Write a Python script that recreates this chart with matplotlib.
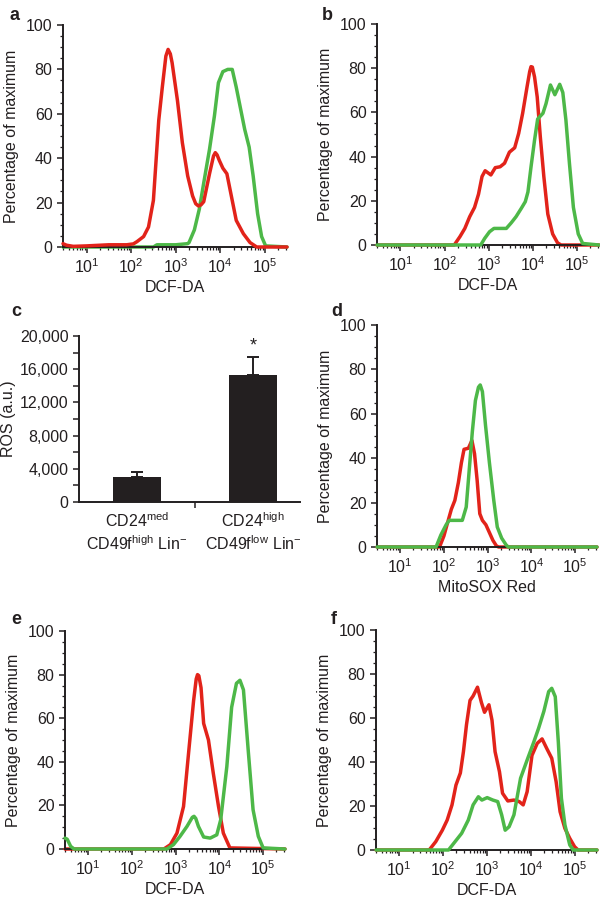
import numpy as np
import matplotlib
matplotlib.use("Agg")
import matplotlib.pyplot as plt
from matplotlib.ticker import LogLocator, NullFormatter, MultipleLocator, FuncFormatter

plt.rcParams['font.family'] = ['Liberation Sans', 'DejaVu Sans']
plt.rcParams['mathtext.fontset'] = 'custom'
plt.rcParams['mathtext.rm'] = 'Liberation Sans'
plt.rcParams['mathtext.it'] = 'Liberation Sans:italic'
plt.rcParams['mathtext.bf'] = 'Liberation Sans:bold'

TXT = '#231f20'
RED = '#e2231a'
GREEN = '#4db848'

# ---------------- data (x as log10 fluorescence, y as % of maximum) ----------------
a_red_logx = [0.47, 0.55, 0.7, 1.0, 1.5, 1.9, 2.05, 2.13, 2.28, 2.39, 2.5, 2.62, 2.70, 2.78, 2.83, 2.88, 2.92, 3.04,
              3.15, 3.27, 3.38, 3.45, 3.51, 3.57, 3.63, 3.76, 3.85, 3.89, 3.93, 3.98, 4.06, 4.15, 4.25, 4.36, 4.52, 4.67, 4.82, 5.5]
a_red_pct = [1.5, 0.8, 0.3, 0.5, 1.0, 1.0, 1.4, 2.4, 4.7, 9, 21, 57, 72, 86, 89, 87, 83, 66,
             47, 32, 23, 19.5, 18.5, 19, 20.4, 33, 41, 42.5, 41.5, 39, 35.5, 33, 23, 12, 6, 2, 0, 0]
a_green_logx = [0.47, 2.5, 2.58, 3.0, 3.27, 3.3, 3.42, 3.53, 3.64, 3.76, 3.87, 3.96, 4.06, 4.17, 4.27, 4.36,
                4.48, 4.55, 4.65, 4.74, 4.84, 4.93, 5.02, 5.5]
a_green_pct = [0, 0, 1.0, 1.0, 1.5, 2, 7.7, 17, 30, 44, 59, 74, 79, 80, 80, 72,
               60, 53, 45, 32, 15, 4.7, 0.5, 0]

b_red_logx = [0.47, 2.22, 2.35, 2.46, 2.57, 2.68, 2.77, 2.85, 2.92, 3.05, 3.15, 3.26, 3.36, 3.47, 3.59,
              3.68, 3.77, 3.87, 3.93, 3.96, 3.99, 4.04, 4.10, 4.17, 4.25, 4.34, 4.45, 4.56, 4.64, 5.5]
b_red_pct = [0, 0, 3.8, 7.5, 12.8, 17, 23, 31, 33.6, 31.7, 35, 35.4, 37, 42, 44,
             50.5, 59.6, 71.6, 78.5, 80.7, 80.5, 76, 67, 49, 31, 14, 5, 1, 0, 0]
b_green_logx = [0.47, 2.82, 2.91, 3.02, 3.12, 3.40, 3.51, 3.62, 3.74, 3.83, 3.89, 3.96, 4.04, 4.11,
                4.23, 4.30, 4.40, 4.50, 4.61, 4.68, 4.75, 4.83, 4.92, 5.03, 5.13, 5.5]
b_green_pct = [0, 0, 3, 6, 7.5, 7.5, 10, 12.8, 16.6, 19.6, 24, 35.4, 47.5, 57,
               59.6, 64, 72.4, 68, 72.7, 69, 56.6, 37, 17, 5, 0.7, 0]

c_groups = ['CD24$^{\\rm med}$\nCD49f$^{\\rm high}$ Lin$^{-}$',
            'CD24$^{\\rm high}$\nCD49f$^{\\rm low}$ Lin$^{-}$']
c_ros = [3050, 15300]
c_err = [530, 2170]

d_red_logx = [0.47, 1.90, 2.0, 2.08, 2.17, 2.25, 2.33, 2.40, 2.46, 2.56, 2.64, 2.70, 2.76, 2.82, 2.88,
              2.96, 3.04, 3.12, 3.20, 3.25, 5.5]
d_red_pct = [0, 0, 5, 10.7, 17, 21, 29, 38, 44, 44.5, 48, 42, 30, 15, 12,
             10, 6.5, 3, 0.5, 0, 0]
d_green_logx = [0.47, 1.82, 1.93, 2.05, 2.12, 2.42, 2.51, 2.58, 2.65, 2.72, 2.79, 2.83, 2.88, 2.95, 3.04,
                3.14, 3.22, 3.32, 3.42, 3.47, 5.5]
d_green_pct = [0, 0, 5.4, 10, 12, 12, 18, 35, 52, 66, 72, 73, 70, 55, 38,
               21, 9, 4, 1, 0, 0]

e_red_logx = [0.47, 2.73, 2.88, 3.03, 3.18, 3.30, 3.41, 3.47, 3.50, 3.53, 3.58, 3.64, 3.75, 3.86, 3.98, 4.09, 4.24, 5.5]
e_red_pct = [0, 0, 2, 7.3, 19.5, 45, 68, 78, 80, 79.5, 74, 57.6, 50, 34.8, 19.5, 7.3, 0.5, 0]
e_green_logx = [0.47, 0.52, 0.6, 0.68, 2.8, 2.95, 3.10, 3.26, 3.38, 3.42, 3.46, 3.52, 3.64, 3.79, 3.94, 4.03, 4.17,
                4.28, 4.39, 4.47, 4.55, 4.66, 4.77, 4.89, 5.0, 5.5]
e_green_pct = [5, 4.5, 1.2, 0, 0, 2, 5.8, 10.4, 14.5, 15, 14, 10.4, 5.5, 5, 6.5, 13.4, 37.8,
               65, 76, 77.4, 73, 45, 18, 5.8, 0.5, 0]

f_red_logx = [0.47, 1.68, 1.83, 1.98, 2.09, 2.2, 2.29, 2.39, 2.46, 2.53, 2.61, 2.68, 2.78, 2.87, 2.94,
              3.04, 3.11, 3.18, 3.28, 3.35, 3.47, 3.61, 3.73, 3.82, 3.91, 4.02, 4.14, 4.25, 4.36, 4.47,
              4.57, 4.66, 4.77, 4.88, 4.99, 5.07, 5.5]
f_red_pct = [0, 0, 3.8, 9, 13.6, 20.5, 29.5, 35, 44.7, 57, 68, 70, 74, 67, 62.6,
             66, 59, 44.7, 35.6, 25.8, 22.3, 22.7, 22, 20.5, 26.5, 43, 48.5, 50.5, 46, 41.7,
             31, 17.4, 9.8, 5.3, 1.5, 0, 0]
f_green_logx = [0.47, 2.12, 2.27, 2.42, 2.57, 2.68, 2.80, 2.88, 3.0, 3.13, 3.24, 3.33, 3.41, 3.5, 3.61,
                3.76, 3.91, 4.06, 4.17, 4.29, 4.40, 4.47, 4.55, 4.62, 4.69, 4.77, 4.88, 4.96, 5.5]
f_green_pct = [0, 0, 3.8, 7.6, 13.6, 20.5, 24.2, 22.7, 23.8, 22.7, 22, 16, 9, 10.6, 16,
               32.6, 40.9, 49, 55.3, 63, 72, 73.5, 69.7, 49, 23.5, 11.4, 2.3, 0, 0]

x_ticks = [1, 2, 3, 4, 5]
y_ticks = [0, 20, 40, 60, 80, 100]
c_yticks = [0, 4000, 8000, 12000, 16000, 20000]

W, H = 600, 897
fig = plt.figure(figsize=(W / 100, H / 100), dpi=100)


def add_ax(l, t, r, b):
    return fig.add_axes([l / W, 1 - b / H, (r - l) / W, (b - t) / H])


def style(ax):
    for s in ['top', 'right']:
        ax.spines[s].set_visible(False)
    for s in ['left', 'bottom']:
        ax.spines[s].set_linewidth(1.4)
        ax.spines[s].set_color(TXT)
    ax.tick_params(which='major', direction='out', length=4.5, width=1.1, colors=TXT,
                   labelsize=11.5, pad=3)
    ax.tick_params(which='minor', direction='out', length=2.5, width=0.9, colors=TXT)


def hist_panel(rect, rx, ry, gx, gy, xlabel, green_top):
    ax = add_ax(*rect)
    style(ax)
    zr = 3 if not green_top else 2
    zg = 2 if not green_top else 3
    ax.plot(10 ** np.array(gx), gy, color=GREEN, lw=2.5, zorder=zg, solid_joinstyle='round',
            solid_capstyle='round', clip_on=False)
    ax.plot(10 ** np.array(rx), ry, color=RED, lw=2.5, zorder=zr, solid_joinstyle='round',
            solid_capstyle='round', clip_on=False)
    ax.set_xscale('log')
    ax.set_xlim(10 ** 0.47, 10 ** 5.5)
    ax.set_ylim(0, 100)
    ax.set_xticks([10.0 ** k for k in x_ticks])
    ax.set_xticklabels(['10$^{%d}$' % k for k in x_ticks])
    ax.xaxis.set_minor_locator(LogLocator(base=10, subs=np.arange(2, 10), numticks=20))
    ax.xaxis.set_minor_formatter(NullFormatter())
    ax.set_yticks(y_ticks)
    ax.yaxis.set_minor_locator(MultipleLocator(5))
    ax.set_ylabel('Percentage of maximum', fontsize=11.5, color=TXT, labelpad=5)
    ax.set_xlabel(xlabel, fontsize=11.5, color=TXT, labelpad=3)
    return ax


hist_panel((63, 25, 287, 247), a_red_logx, a_red_pct, a_green_logx, a_green_pct, 'DCF-DA', False)
hist_panel((377, 24, 599, 245), b_red_logx, b_red_pct, b_green_logx, b_green_pct, 'DCF-DA', True)
hist_panel((377, 325, 597, 547), d_red_logx, d_red_pct, d_green_logx, d_green_pct, 'MitoSOX Red', True)
hist_panel((65, 631, 285, 849), e_red_logx, e_red_pct, e_green_logx, e_green_pct, 'DCF-DA', True)
hist_panel((376, 630, 597, 850), f_red_logx, f_red_pct, f_green_logx, f_green_pct, 'DCF-DA', True)

# ---------------- panel c: bar chart ----------------
axc = add_ax(79, 336, 300, 502)
style(axc)
xpos = np.arange(len(c_ros))
axc.bar(xpos, c_ros, width=0.414, color=TXT, zorder=2)
axc.errorbar(xpos, c_ros, yerr=[np.zeros(len(c_err)), c_err], fmt='none', ecolor=TXT,
             elinewidth=1.4, capsize=4.5, capthick=1.4, zorder=1)
axc.text(xpos[1], c_ros[1] + c_err[1] + 250, '*', ha='center', va='bottom', fontsize=13, color=TXT)
axc.set_xlim(-0.5, 1.405)
axc.set_ylim(0, 20000)
axc.set_yticks(c_yticks)
axc.yaxis.set_major_formatter(FuncFormatter(lambda v, p: '{:,}'.format(int(v))))
axc.yaxis.set_minor_locator(MultipleLocator(2000))
axc.tick_params(axis='y', which='minor', length=4.5, width=1.1)
axc.set_xticks(xpos)
axc.set_xticklabels(c_groups, fontsize=11.5, color=TXT, linespacing=1.25)
axc.tick_params(axis='x', which='major', length=0, pad=7)
axc.set_xticks([0.5], minor=True)
axc.tick_params(axis='x', which='minor', length=4.5, width=1.1)
axc.set_ylabel('ROS (a.u.)', fontsize=11.5, color=TXT)
axc.yaxis.set_label_coords(-(79 - 16) / 221, 0.5)

# ---------------- panel letters ----------------
for lab, x, y in [('a', 10, 7), ('b', 322, 7), ('c', 11, 303), ('d', 331, 303), ('e', 11, 611), ('f', 331, 611)]:
    fig.text(x / W, 1 - y / H, lab, fontsize=13, fontweight='bold', va='top', ha='left', color=TXT)

fig.savefig('out.png', dpi=100)
